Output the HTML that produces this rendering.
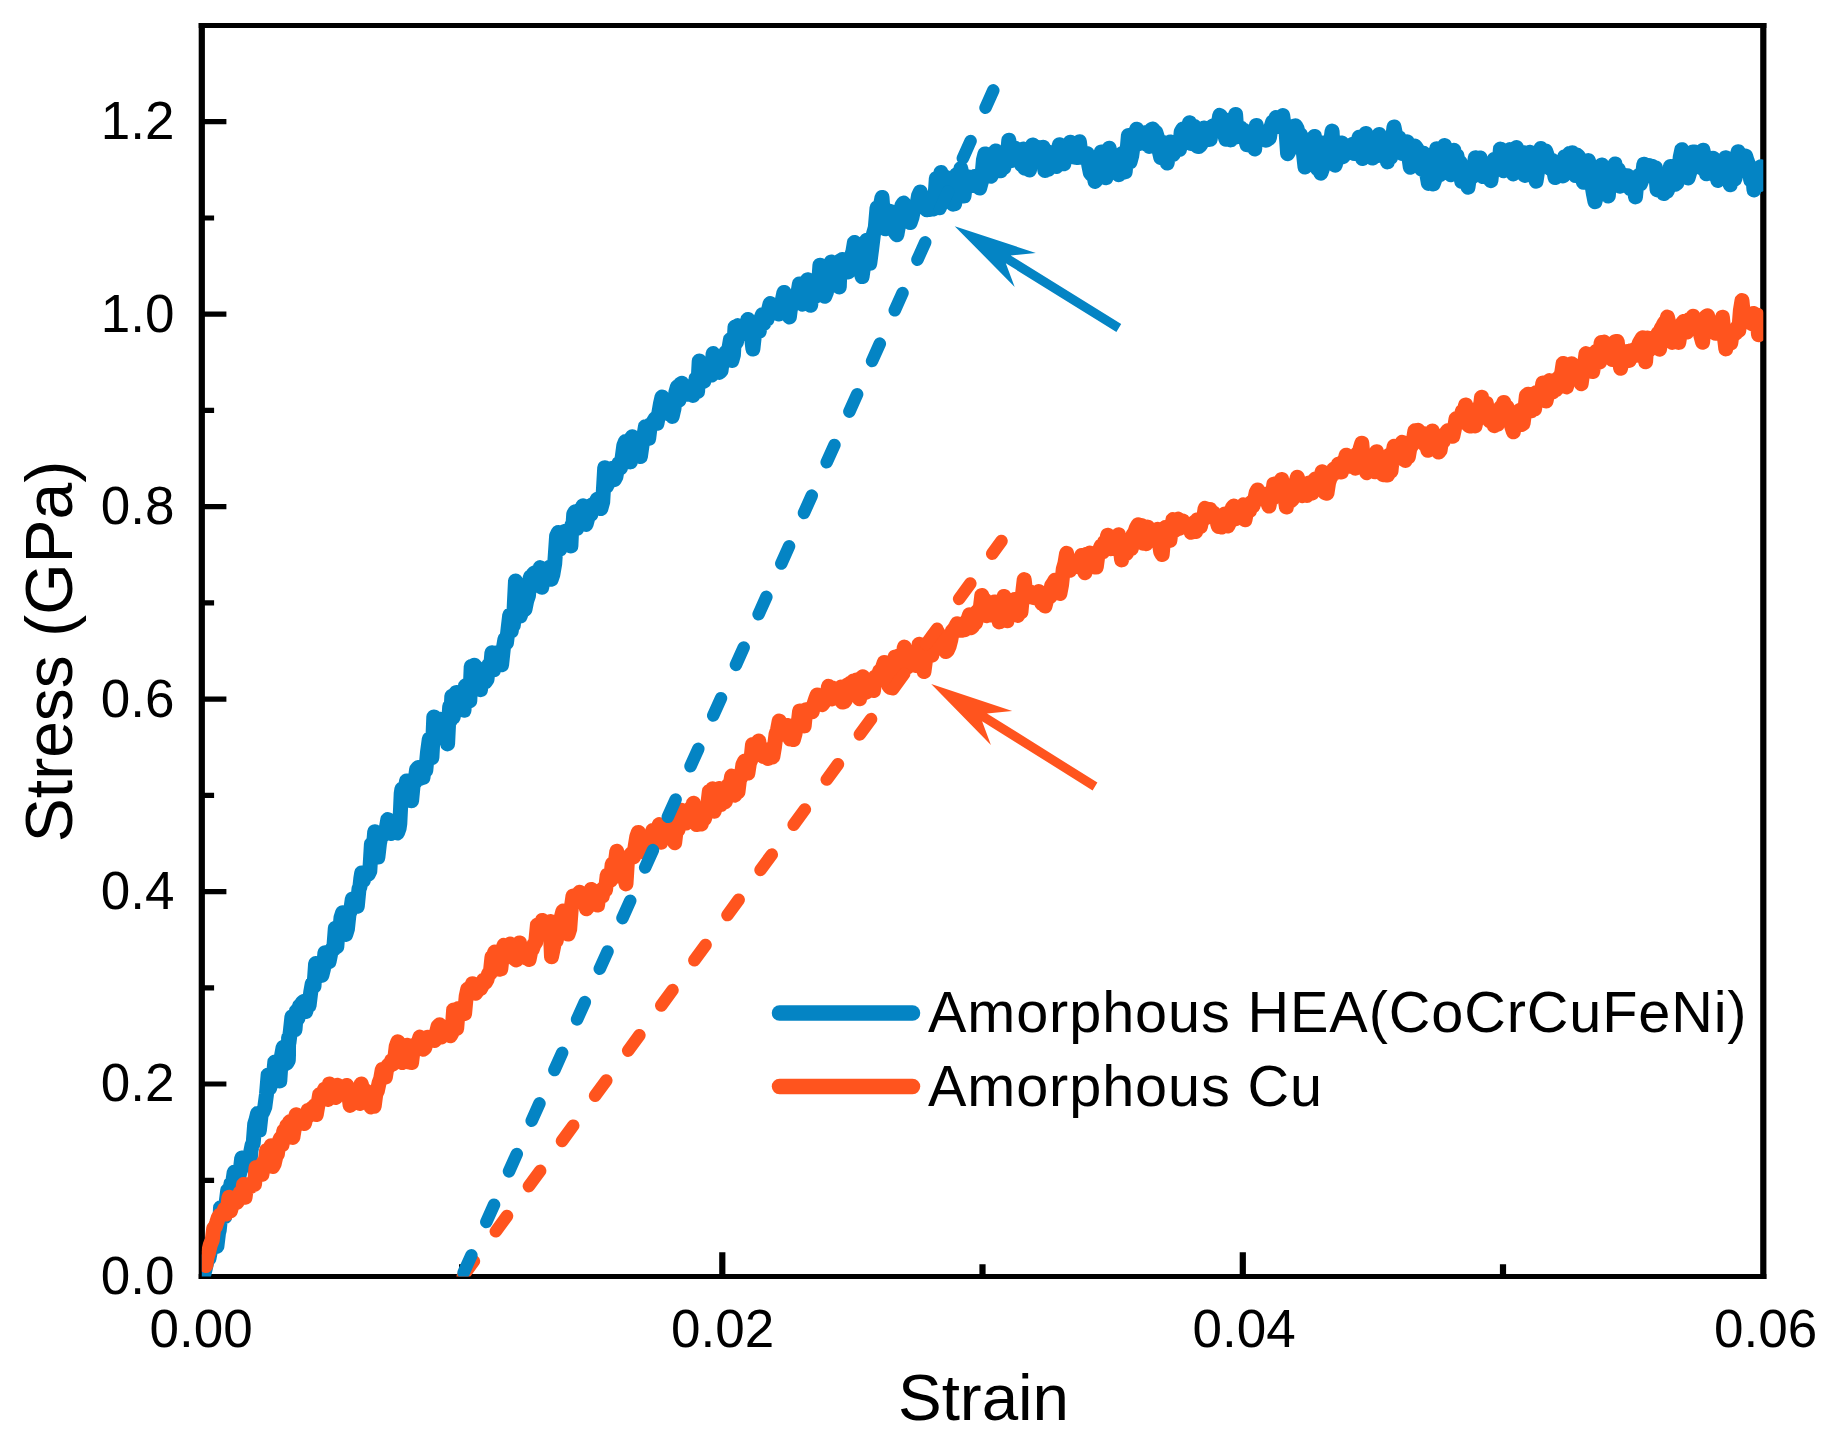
<!DOCTYPE html><html><head><meta charset="utf-8"><title>Stress-Strain</title><style>html,body{margin:0;padding:0;background:#fff}svg{display:block}</style></head><body><svg width="1830" height="1444" viewBox="0 0 1830 1444">
<defs><clipPath id="c"><rect x="201.8" y="25.5" width="1561.5" height="1251.0"/></clipPath></defs>
<rect width="1830" height="1444" fill="#fff"/>
<path d="M201.8,22.9V1279.1M1763.3,22.9V1279.1" stroke="#000" stroke-width="6.2" fill="none"/>
<path d="M198.70000000000002,25.5H1766.3999999999999M198.70000000000002,1276.5H1766.3999999999999" stroke="#000" stroke-width="5.2" fill="none"/>
<path d="M201.8,1180.3H214.10000000000002 M201.8,1084.0H226.4 M201.8,987.8H214.10000000000002 M201.8,891.6H226.4 M201.8,795.3H214.10000000000002 M201.8,699.1H226.4 M201.8,602.9H214.10000000000002 M201.8,506.7H226.4 M201.8,410.4H214.10000000000002 M201.8,314.2H226.4 M201.8,218.0H214.10000000000002 M201.8,121.7H226.4 M201.8,25.5H214.10000000000002" stroke="#000" stroke-width="5.2" fill="none"/>
<path d="M462.1,1276.5V1264.2 M722.3,1276.5V1252.2 M982.5,1276.5V1264.2 M1242.8,1276.5V1252.2 M1503.0,1276.5V1264.2" stroke="#000" stroke-width="6.2" fill="none"/>
<g font-family="'Liberation Sans', sans-serif" font-size="53" fill="#000">
<text x="174.5" y="1293.9" text-anchor="end">0.0</text>
<text x="174.5" y="1101.4" text-anchor="end">0.2</text>
<text x="174.5" y="909.0" text-anchor="end">0.4</text>
<text x="174.5" y="716.5" text-anchor="end">0.6</text>
<text x="174.5" y="524.1" text-anchor="end">0.8</text>
<text x="174.5" y="331.6" text-anchor="end">1.0</text>
<text x="174.5" y="139.1" text-anchor="end">1.2</text>
<text x="201.1" y="1347" text-anchor="middle">0.00</text>
<text x="722.6" y="1347" text-anchor="middle">0.02</text>
<text x="1244.2" y="1347" text-anchor="middle">0.04</text>
<text x="1765.7" y="1347" text-anchor="middle">0.06</text>
</g>
<text font-family="'Liberation Sans', sans-serif" font-size="65.5" x="983.5" y="1419.5" text-anchor="middle">Strain</text>
<text font-family="'Liberation Sans', sans-serif" font-size="66" transform="translate(72.3,651.5) rotate(-90)" text-anchor="middle">Stress (GPa)</text>
<g clip-path="url(#c)" fill="none" stroke-linejoin="round" stroke-linecap="round">
<path d="M201.9,1278.2 L202.6,1277.6 L204.2,1273.0 L205.8,1266.2 L207.4,1259.0 L209.0,1258.4 L210.6,1250.1 L212.2,1240.9 L213.8,1246.1 L215.3,1245.6 L216.9,1246.3 L218.5,1233.0 L219.2,1230.4 L219.8,1224.8 L220.5,1207.7 L221.9,1211.9 L223.4,1206.7 L224.8,1216.4 L226.3,1201.6 L227.7,1190.3 L229.4,1193.9 L231.0,1183.6 L232.7,1182.4 L234.2,1172.2 L235.7,1172.5 L237.2,1178.5 L238.7,1177.1 L240.2,1171.1 L241.7,1158.0 L243.2,1165.4 L244.8,1162.6 L246.5,1165.2 L248.2,1160.1 L249.8,1164.0 L250.9,1151.0 L252.1,1145.1 L253.2,1143.4 L254.7,1123.9 L256.1,1119.5 L257.6,1113.4 L259.4,1130.1 L261.2,1114.0 L263.0,1111.5 L264.8,1107.0 L266.5,1094.2 L268.1,1075.1 L269.8,1087.7 L271.4,1076.6 L273.1,1079.5 L274.8,1062.0 L276.4,1062.2 L278.1,1075.9 L279.8,1080.9 L281.4,1056.7 L283.1,1047.4 L284.9,1054.7 L286.6,1063.3 L288.3,1060.3 L288.5,1054.8 L288.6,1037.3 L288.8,1041.2 L288.9,1043.2 L290.4,1030.9 L291.9,1016.8 L293.5,1016.9 L295.0,1029.7 L296.5,1010.9 L298.0,1018.2 L299.4,1006.2 L300.8,1005.2 L302.5,1002.4 L304.1,1001.2 L305.8,1011.5 L307.5,1003.0 L309.1,1005.6 L310.7,992.4 L312.3,983.3 L314.0,986.2 L315.6,963.6 L317.2,972.6 L318.8,976.1 L320.3,964.7 L321.9,975.3 L323.4,969.3 L324.9,952.8 L326.4,963.3 L328.0,959.5 L328.3,956.1 L328.7,954.0 L329.1,961.6 L330.6,954.1 L332.2,948.8 L333.7,949.3 L335.3,928.3 L336.8,946.8 L338.2,928.8 L339.6,933.0 L341.0,917.5 L342.6,912.7 L344.2,914.7 L345.8,934.4 L347.4,929.1 L349.0,914.1 L350.7,910.2 L352.3,899.1 L354.0,903.4 L355.7,898.3 L357.3,906.3 L359.0,888.7 L359.9,887.1 L360.8,878.4 L361.7,872.9 L363.4,880.4 L365.0,874.4 L366.6,873.0 L368.2,874.4 L369.8,871.2 L371.4,844.1 L373.1,851.2 L374.7,831.7 L376.3,838.5 L377.9,857.1 L379.5,843.2 L381.1,835.3 L382.8,835.4 L384.5,832.2 L386.1,829.4 L387.8,819.6 L389.4,830.8 L391.1,833.5 L392.7,824.3 L394.3,825.5 L395.9,828.7 L397.5,832.9 L399.1,828.3 L399.8,823.6 L400.5,809.5 L401.2,793.4 L401.9,789.0 L402.6,797.1 L403.3,795.7 L405.0,789.6 L406.6,780.9 L408.3,785.5 L409.9,799.0 L411.6,800.8 L413.3,783.1 L414.9,782.4 L416.6,769.4 L418.3,767.5 L419.9,778.5 L421.0,774.7 L422.0,777.7 L423.0,777.5 L424.1,769.4 L425.8,770.4 L427.5,752.2 L429.3,738.9 L431.0,747.0 L431.9,757.7 L432.8,741.0 L433.8,716.9 L435.3,723.5 L436.8,736.4 L438.4,719.0 L439.9,729.3 L441.5,720.2 L443.0,733.9 L444.5,734.3 L446.1,730.2 L447.6,743.9 L448.7,720.9 L449.7,706.4 L450.7,719.9 L451.8,696.2 L453.3,716.9 L454.8,705.3 L456.3,692.5 L457.9,697.4 L459.4,700.5 L460.9,702.4 L462.4,699.7 L464.0,710.3 L465.5,685.8 L467.0,691.2 L468.4,688.2 L469.8,701.0 L471.2,666.6 L472.7,671.2 L474.3,665.2 L475.8,666.9 L477.4,678.7 L479.0,680.4 L480.5,689.7 L482.1,674.3 L483.6,676.2 L485.3,681.9 L487.0,679.3 L488.6,665.1 L490.3,671.1 L491.9,652.7 L493.6,669.9 L495.2,660.0 L496.8,653.0 L498.4,652.8 L500.0,656.6 L501.6,664.8 L503.3,648.7 L504.9,639.2 L506.5,642.6 L508.1,629.0 L509.7,615.1 L511.3,631.0 L512.4,619.8 L513.4,624.8 L514.4,602.8 L515.5,581.0 L517.1,597.1 L518.7,601.6 L520.2,616.1 L521.8,611.5 L523.4,608.0 L525.0,609.3 L526.6,601.2 L528.4,595.9 L530.3,577.0 L532.1,583.0 L533.7,573.6 L535.3,572.4 L537.0,580.9 L538.6,584.7 L540.2,567.6 L541.8,587.3 L543.4,570.1 L545.0,575.8 L546.5,577.8 L548.1,571.0 L549.7,567.1 L551.3,579.2 L552.9,574.3 L554.7,563.7 L556.6,536.1 L558.4,532.4 L560.0,549.1 L561.5,545.6 L563.1,533.5 L564.7,531.3 L566.2,532.9 L567.8,541.6 L569.3,541.4 L570.9,546.0 L571.8,525.4 L572.7,530.0 L573.7,514.2 L575.2,511.7 L576.8,528.3 L578.3,518.6 L579.9,512.6 L581.4,509.2 L583.0,505.8 L584.6,521.3 L586.1,524.4 L587.7,518.4 L589.3,510.5 L590.9,514.3 L592.5,504.7 L594.0,505.0 L595.6,503.6 L597.2,499.3 L599.0,507.7 L600.9,508.5 L602.7,502.0 L604.7,467.7 L606.6,486.1 L608.2,482.6 L609.7,470.0 L611.2,468.4 L612.8,477.3 L614.3,479.7 L615.9,476.7 L617.4,468.2 L618.9,463.3 L620.5,467.7 L622.1,458.2 L623.8,445.6 L625.5,441.4 L627.1,442.1 L628.8,444.4 L630.4,461.9 L632.1,436.8 L633.8,444.4 L635.4,441.8 L637.1,444.2 L638.8,454.3 L640.4,456.6 L642.1,444.7 L643.7,436.8 L645.4,426.7 L647.1,429.2 L648.7,438.3 L650.4,424.4 L652.0,424.5 L653.7,421.0 L655.4,418.4 L657.0,423.3 L658.7,413.9 L660.4,403.9 L662.0,397.0 L663.7,412.9 L665.3,406.6 L667.0,404.5 L668.7,413.7 L670.3,402.0 L672.2,416.4 L674.0,408.5 L675.9,392.1 L677.4,386.7 L679.0,400.0 L680.5,384.2 L682.0,383.3 L683.6,388.6 L685.1,392.0 L686.6,391.3 L688.2,394.2 L689.7,388.3 L691.3,385.7 L692.9,395.4 L694.5,391.4 L696.1,378.5 L697.6,391.5 L699.2,361.1 L700.8,367.2 L702.3,375.6 L703.9,381.2 L705.4,375.5 L707.0,369.0 L708.5,375.5 L710.0,370.7 L711.6,375.1 L713.1,353.6 L714.7,368.2 L716.2,360.5 L717.8,371.7 L719.4,372.4 L721.0,370.9 L722.6,358.7 L724.2,360.4 L725.7,352.5 L727.3,353.4 L728.8,349.2 L730.4,339.7 L731.9,360.5 L733.4,355.1 L735.0,327.0 L736.5,342.1 L738.0,325.6 L739.6,328.8 L741.2,327.3 L742.9,327.0 L744.6,333.6 L746.2,330.7 L747.9,319.5 L749.6,328.2 L751.2,334.4 L752.9,349.0 L754.5,334.4 L756.2,322.2 L757.7,323.1 L759.3,331.2 L760.8,318.9 L762.4,314.7 L763.9,323.2 L765.4,319.7 L767.0,319.2 L768.5,310.0 L770.1,303.6 L771.6,305.7 L773.1,307.3 L774.7,305.7 L776.2,311.4 L777.8,313.8 L779.3,314.0 L780.8,312.9 L782.4,299.7 L783.9,292.4 L785.8,311.0 L787.6,312.9 L789.4,316.9 L791.1,303.1 L792.8,305.1 L794.4,300.4 L796.1,295.1 L797.8,293.7 L799.4,283.9 L801.1,293.0 L802.7,304.2 L804.4,289.7 L806.1,290.2 L807.6,279.7 L809.1,291.2 L810.7,305.3 L812.2,282.0 L813.8,282.2 L815.3,296.4 L816.8,291.3 L818.4,286.7 L819.9,265.2 L821.5,274.7 L823.1,287.4 L824.8,296.3 L826.4,292.2 L828.0,279.7 L829.6,274.2 L831.2,262.0 L832.8,264.3 L834.5,284.5 L836.1,280.4 L837.7,267.9 L839.3,287.1 L840.2,260.7 L841.2,273.5 L842.1,259.6 L843.6,262.6 L845.2,266.5 L846.7,264.0 L848.2,271.9 L849.8,263.2 L851.3,256.9 L852.9,251.5 L854.4,242.5 L855.9,245.8 L857.5,260.8 L859.0,263.9 L860.5,269.2 L862.1,276.6 L863.6,266.0 L865.2,259.6 L866.7,240.3 L868.2,242.3 L869.8,263.2 L871.6,249.5 L873.5,233.9 L875.3,227.7 L877.0,207.8 L878.6,210.0 L880.3,206.2 L882.0,197.4 L883.6,219.6 L885.3,228.8 L887.0,221.4 L888.6,223.1 L890.3,211.3 L891.9,219.8 L893.6,224.7 L895.3,232.5 L896.9,234.8 L898.6,225.3 L900.2,215.8 L901.9,205.5 L903.6,203.1 L905.2,212.5 L906.9,214.6 L908.6,209.7 L910.2,222.5 L911.9,217.6 L913.5,209.9 L915.2,204.9 L916.9,205.2 L918.5,195.8 L920.2,191.9 L921.9,202.0 L923.5,196.9 L925.2,197.5 L926.8,209.7 L928.3,200.3 L929.9,209.4 L931.5,199.8 L933.1,209.0 L934.7,201.8 L936.3,178.4 L937.8,197.2 L939.3,190.7 L940.9,172.5 L942.4,184.5 L944.0,188.9 L945.5,177.3 L947.0,179.1 L948.6,189.9 L950.1,201.2 L951.6,202.8 L953.2,204.1 L954.7,203.7 L956.3,174.8 L957.8,176.9 L959.3,185.8 L960.9,168.5 L962.4,188.1 L964.0,196.0 L965.5,183.6 L967.0,182.6 L968.6,177.0 L970.1,183.1 L971.7,184.8 L973.2,185.5 L974.7,176.5 L976.3,185.8 L977.8,182.3 L979.7,188.1 L981.5,181.4 L983.4,160.1 L984.9,153.9 L986.4,164.9 L988.0,163.4 L989.5,171.0 L991.0,176.2 L992.6,170.7 L994.1,153.1 L995.7,150.9 L997.2,165.5 L998.9,155.5 L1000.5,170.8 L1002.2,164.9 L1003.9,167.7 L1005.5,155.6 L1007.2,157.9 L1008.8,140.3 L1010.5,150.5 L1012.2,160.4 L1013.8,150.3 L1015.4,148.3 L1017.0,155.2 L1018.6,159.1 L1020.2,153.3 L1021.7,164.9 L1023.3,148.9 L1024.9,168.3 L1026.4,152.2 L1028.0,151.5 L1029.5,170.1 L1031.1,155.9 L1032.6,144.9 L1034.1,156.1 L1035.7,151.0 L1037.2,147.3 L1038.8,149.5 L1040.0,149.4 L1041.6,147.9 L1043.2,147.2 L1044.8,170.4 L1046.4,158.8 L1048.1,169.4 L1049.7,152.5 L1051.3,163.9 L1052.9,152.5 L1054.5,155.7 L1056.1,166.6 L1057.7,160.5 L1059.3,144.8 L1060.8,151.1 L1062.4,156.2 L1063.9,163.8 L1065.5,152.1 L1067.0,153.6 L1068.6,156.7 L1070.1,142.2 L1071.7,150.1 L1073.2,145.9 L1074.8,157.2 L1076.3,157.2 L1077.9,157.6 L1079.4,141.8 L1081.0,154.4 L1082.5,157.4 L1084.1,154.4 L1085.7,157.9 L1087.2,153.5 L1088.8,165.3 L1090.3,172.9 L1091.9,174.9 L1093.4,165.8 L1095.0,181.5 L1096.5,179.7 L1098.1,163.3 L1099.6,164.5 L1101.2,151.9 L1102.7,160.4 L1104.3,170.3 L1105.9,177.7 L1107.5,165.1 L1109.1,148.2 L1110.7,155.6 L1112.3,170.7 L1113.9,164.8 L1115.5,171.8 L1117.2,169.8 L1118.8,174.7 L1120.4,167.5 L1122.0,153.5 L1123.6,157.3 L1125.2,171.9 L1126.8,153.9 L1128.4,135.4 L1130.1,161.9 L1131.7,155.9 L1133.3,144.3 L1134.9,139.6 L1136.5,129.2 L1138.1,143.9 L1139.7,143.4 L1141.3,135.9 L1142.9,134.2 L1144.5,132.7 L1146.1,144.1 L1147.6,136.6 L1149.2,146.4 L1150.8,130.2 L1152.5,128.9 L1154.1,130.8 L1155.8,132.2 L1157.5,137.8 L1159.1,150.4 L1160.8,157.7 L1162.4,142.1 L1164.1,157.9 L1165.7,152.5 L1167.2,163.0 L1168.8,151.8 L1170.3,142.0 L1171.9,152.2 L1173.4,154.2 L1175.0,145.6 L1176.5,146.5 L1178.1,147.6 L1179.6,149.4 L1181.2,131.8 L1182.8,129.1 L1184.4,138.1 L1186.1,142.1 L1187.7,136.1 L1189.3,122.8 L1190.9,143.6 L1192.5,136.1 L1194.1,126.5 L1195.7,144.7 L1197.3,146.3 L1199.0,146.5 L1200.6,144.9 L1202.2,142.1 L1203.8,128.0 L1205.4,131.6 L1207.0,135.6 L1208.6,139.4 L1210.2,139.3 L1211.8,126.8 L1213.5,125.8 L1215.1,127.7 L1216.6,129.8 L1218.2,124.9 L1219.7,115.3 L1221.3,117.3 L1222.8,131.0 L1224.4,133.2 L1225.9,139.2 L1227.5,120.5 L1229.0,126.6 L1230.6,139.9 L1232.2,119.8 L1233.9,119.8 L1235.6,114.5 L1237.2,136.7 L1238.9,134.1 L1240.6,127.7 L1242.2,131.2 L1243.9,130.1 L1245.4,138.9 L1247.0,144.7 L1248.5,145.0 L1250.1,140.7 L1251.6,143.2 L1253.2,144.9 L1254.7,148.9 L1256.3,125.4 L1257.8,136.0 L1259.4,137.9 L1261.1,138.8 L1262.7,135.4 L1264.4,135.5 L1266.0,140.2 L1267.7,139.2 L1269.4,138.0 L1271.0,127.3 L1272.7,121.8 L1274.3,124.8 L1276.0,117.5 L1277.7,126.0 L1279.3,126.5 L1281.0,119.1 L1282.7,115.6 L1284.3,127.2 L1286.0,130.7 L1287.6,153.7 L1289.1,150.9 L1290.7,135.6 L1292.3,132.2 L1293.9,126.3 L1295.5,125.7 L1297.1,128.8 L1298.6,135.2 L1300.2,134.2 L1301.8,147.7 L1303.4,152.6 L1305.0,167.1 L1306.6,146.1 L1308.1,157.3 L1309.7,151.4 L1311.3,138.9 L1312.9,145.6 L1314.5,136.5 L1316.1,147.1 L1317.6,168.7 L1319.2,169.6 L1320.9,173.2 L1322.5,168.4 L1324.2,142.8 L1325.9,149.7 L1327.4,150.7 L1329.0,153.8 L1330.5,142.7 L1332.1,131.1 L1333.6,161.9 L1335.2,165.2 L1336.7,159.2 L1338.3,150.7 L1339.8,153.6 L1341.4,142.9 L1343.0,156.8 L1344.6,154.5 L1346.2,150.4 L1347.8,146.1 L1349.4,147.2 L1351.1,148.7 L1352.7,144.2 L1354.3,153.6 L1355.9,150.0 L1357.5,145.7 L1359.1,137.2 L1360.8,152.3 L1362.4,158.5 L1364.1,155.7 L1365.8,133.4 L1367.4,138.5 L1369.1,151.8 L1370.7,148.5 L1372.4,158.1 L1374.1,147.6 L1375.7,155.0 L1377.4,155.8 L1379.1,134.4 L1380.7,141.8 L1382.4,146.3 L1384.0,145.2 L1385.7,143.0 L1387.4,161.9 L1389.0,153.3 L1390.7,157.3 L1392.4,140.0 L1394.0,126.9 L1395.7,135.2 L1397.3,144.8 L1399.0,137.9 L1400.6,147.3 L1402.2,153.4 L1403.8,145.5 L1405.4,146.5 L1407.1,141.7 L1408.7,155.9 L1410.3,167.2 L1411.9,160.9 L1413.5,150.8 L1415.1,146.1 L1416.7,148.5 L1418.4,160.7 L1420.1,152.1 L1421.7,169.1 L1423.4,153.2 L1425.0,159.0 L1426.7,173.4 L1428.4,183.4 L1430.0,169.5 L1431.7,172.7 L1433.3,183.9 L1435.0,179.0 L1436.6,148.7 L1438.2,157.2 L1439.9,174.7 L1441.4,154.8 L1443.0,166.1 L1444.5,145.4 L1446.1,170.0 L1447.6,158.7 L1449.2,169.5 L1450.7,174.8 L1452.3,152.0 L1453.9,150.3 L1455.4,165.4 L1457.0,155.8 L1458.6,166.0 L1460.2,162.6 L1461.7,181.6 L1463.3,173.4 L1464.9,167.9 L1466.5,180.0 L1468.0,187.2 L1469.4,177.1 L1470.9,176.3 L1472.4,176.9 L1473.9,167.7 L1475.3,157.7 L1476.9,170.0 L1478.4,167.2 L1480.0,158.0 L1481.6,174.1 L1483.1,176.6 L1484.7,175.4 L1486.2,167.9 L1487.8,170.1 L1489.3,178.4 L1490.9,180.7 L1492.4,167.0 L1494.0,159.5 L1495.6,165.3 L1497.2,164.0 L1498.8,167.1 L1500.4,149.1 L1501.9,158.4 L1503.6,170.7 L1505.2,168.6 L1506.8,161.5 L1508.4,166.1 L1510.0,149.6 L1511.6,151.5 L1513.2,173.9 L1514.8,151.0 L1516.4,147.6 L1518.1,163.6 L1519.7,157.3 L1521.3,156.6 L1523.0,152.4 L1524.7,175.4 L1526.3,164.8 L1528.0,164.6 L1529.6,152.2 L1531.3,170.5 L1533.0,171.0 L1534.5,172.9 L1536.1,181.2 L1537.7,170.7 L1539.3,154.1 L1540.9,148.4 L1542.5,154.2 L1544.0,165.3 L1545.6,150.9 L1547.2,155.3 L1548.8,159.2 L1550.4,168.7 L1552.0,160.4 L1553.5,169.1 L1555.1,177.6 L1556.7,171.3 L1558.3,167.5 L1559.9,171.3 L1561.5,171.2 L1563.0,175.9 L1564.6,156.7 L1566.2,168.5 L1567.8,162.4 L1569.3,153.6 L1570.9,156.5 L1572.4,152.7 L1574.0,161.2 L1575.5,175.6 L1577.1,155.1 L1578.6,156.7 L1580.2,174.8 L1581.7,173.1 L1583.4,182.3 L1585.0,168.3 L1586.7,174.9 L1588.4,160.6 L1590.0,166.9 L1591.7,183.3 L1593.4,193.8 L1595.0,201.7 L1596.7,189.5 L1598.3,178.1 L1600.0,178.1 L1601.7,165.0 L1603.3,187.9 L1605.0,194.2 L1606.6,178.6 L1608.3,196.1 L1610.0,175.1 L1611.6,183.8 L1613.3,175.1 L1615.0,164.0 L1616.6,178.0 L1618.3,169.5 L1619.9,186.3 L1621.6,174.3 L1623.1,179.0 L1624.6,176.0 L1626.0,180.4 L1627.5,175.7 L1629.0,186.5 L1630.5,188.8 L1632.1,184.3 L1633.8,180.8 L1635.5,196.9 L1637.1,179.6 L1638.8,175.4 L1640.4,183.8 L1642.1,179.7 L1643.8,164.2 L1645.4,171.1 L1647.1,171.1 L1648.8,165.5 L1650.4,173.3 L1652.1,166.3 L1653.7,172.3 L1655.4,167.8 L1657.1,189.9 L1658.7,183.0 L1660.4,187.6 L1662.0,188.8 L1663.7,193.6 L1665.4,186.8 L1667.0,191.5 L1668.7,187.3 L1670.4,166.4 L1672.0,179.0 L1673.7,169.3 L1675.3,184.3 L1677.0,182.9 L1678.6,175.7 L1680.2,157.4 L1681.8,149.7 L1683.3,153.6 L1684.9,160.5 L1686.5,153.2 L1688.1,177.9 L1689.8,172.1 L1691.4,164.0 L1693.1,152.1 L1694.7,152.0 L1696.4,154.7 L1698.1,154.6 L1699.7,158.4 L1701.4,167.9 L1703.0,150.2 L1704.7,161.6 L1706.4,173.7 L1708.0,157.7 L1709.7,162.9 L1711.4,163.7 L1713.0,158.3 L1714.7,174.9 L1716.2,169.7 L1717.8,180.5 L1719.3,178.2 L1720.9,171.7 L1722.4,174.3 L1724.0,169.8 L1725.5,157.7 L1727.1,179.5 L1728.6,178.3 L1730.2,184.7 L1731.7,160.9 L1733.3,176.2 L1734.8,179.1 L1736.4,172.2 L1738.0,151.8 L1739.5,162.7 L1741.1,159.4 L1742.6,161.7 L1744.2,164.0 L1745.7,156.1 L1747.4,161.6 L1749.0,165.7 L1750.7,180.2 L1752.4,173.0 L1754.0,190.0 L1755.7,169.1 L1757.3,171.5 L1759.0,184.9 L1760.7,166.7 L1762.3,179.8 L1764.0,183.4 L1765.7,177.1" stroke="#0484C4" stroke-width="15"/>
<path d="M205.8,1265.5 L206.8,1258.2 L208.6,1252.1 L210.4,1244.6 L212.2,1240.4 L213.7,1228.4 L215.3,1226.7 L216.8,1222.4 L218.4,1217.4 L219.9,1215.2 L221.5,1214.6 L223.0,1213.9 L224.5,1209.3 L226.0,1214.1 L227.5,1209.0 L229.0,1197.2 L230.5,1210.7 L232.0,1205.2 L233.5,1200.1 L235.0,1203.0 L236.8,1202.4 L238.5,1200.0 L240.2,1192.6 L242.0,1194.8 L243.6,1184.5 L245.1,1197.2 L246.7,1184.7 L248.2,1185.5 L249.8,1186.0 L251.4,1186.3 L252.9,1182.5 L254.5,1184.5 L256.0,1167.6 L257.5,1170.8 L259.0,1169.7 L260.5,1165.9 L262.0,1174.3 L263.5,1162.1 L265.1,1162.4 L266.6,1150.4 L268.1,1158.8 L269.6,1149.5 L271.1,1145.7 L272.7,1166.5 L274.2,1163.8 L275.8,1156.8 L277.4,1154.0 L279.0,1141.7 L280.5,1138.3 L282.1,1144.7 L283.7,1131.0 L285.3,1138.4 L286.8,1125.6 L288.2,1130.2 L289.7,1121.8 L291.3,1137.1 L292.9,1137.4 L294.5,1127.4 L296.0,1114.8 L297.6,1116.8 L299.2,1121.5 L300.8,1116.8 L302.6,1120.1 L304.5,1123.5 L306.3,1115.9 L308.0,1110.4 L309.7,1115.1 L311.3,1108.8 L313.0,1112.8 L314.7,1105.7 L316.3,1114.5 L318.0,1104.4 L319.6,1094.7 L321.3,1097.7 L323.0,1092.9 L324.5,1089.3 L326.1,1092.9 L327.7,1099.4 L329.3,1083.9 L330.9,1090.3 L332.5,1091.5 L334.0,1091.6 L335.6,1097.4 L337.2,1085.3 L338.8,1093.5 L340.4,1090.2 L342.0,1090.9 L343.5,1088.6 L345.1,1086.7 L346.8,1085.5 L348.4,1091.6 L350.1,1105.4 L351.8,1103.6 L353.4,1102.0 L355.0,1098.4 L356.6,1089.5 L358.2,1093.0 L359.8,1103.5 L361.3,1084.0 L362.9,1090.7 L364.5,1093.7 L366.1,1090.9 L367.7,1093.8 L369.4,1099.3 L371.0,1107.0 L372.6,1104.3 L374.2,1106.3 L375.8,1094.1 L377.4,1090.8 L379.1,1082.8 L380.7,1078.5 L382.3,1069.4 L383.9,1071.6 L385.4,1077.1 L387.0,1066.9 L388.5,1064.9 L390.1,1065.6 L391.6,1060.5 L393.1,1063.9 L394.7,1059.2 L396.2,1046.5 L397.8,1041.8 L399.3,1053.6 L400.8,1057.5 L402.4,1062.5 L403.9,1058.8 L405.5,1057.5 L407.0,1045.2 L408.5,1061.9 L410.1,1052.1 L411.6,1062.6 L413.3,1048.2 L414.9,1044.7 L416.6,1047.3 L418.3,1042.5 L419.9,1037.1 L421.5,1047.2 L423.1,1049.2 L424.7,1048.0 L426.2,1042.5 L427.8,1037.2 L429.4,1037.8 L431.0,1037.6 L432.8,1037.4 L434.7,1040.4 L436.5,1032.5 L438.1,1026.2 L439.6,1024.7 L441.2,1037.0 L442.7,1033.2 L444.2,1031.9 L445.8,1031.4 L447.3,1033.0 L448.8,1030.0 L450.4,1035.7 L452.0,1032.7 L453.6,1009.9 L455.1,1013.5 L456.7,1028.4 L458.3,1008.5 L459.9,1009.4 L461.5,1014.6 L463.1,1007.9 L464.6,1013.5 L466.2,996.2 L467.8,989.0 L469.4,992.5 L471.0,988.7 L472.5,983.7 L474.1,992.8 L475.7,993.2 L477.3,990.8 L478.9,986.3 L480.5,988.6 L482.0,985.9 L483.6,980.1 L485.3,982.5 L487.0,979.5 L488.6,973.6 L490.3,972.9 L491.9,957.4 L493.3,956.9 L494.7,952.0 L496.1,960.9 L497.7,959.2 L499.2,969.3 L500.8,969.0 L502.3,955.3 L503.9,945.3 L505.4,952.4 L507.0,949.4 L508.6,949.0 L510.1,944.0 L511.7,954.4 L513.2,956.0 L514.8,958.9 L516.4,960.0 L517.9,952.9 L519.5,942.9 L521.0,952.8 L522.6,951.0 L524.3,949.6 L525.9,957.9 L527.5,952.0 L529.1,959.5 L530.7,951.5 L532.4,949.1 L534.0,944.5 L535.7,942.4 L537.4,925.0 L539.0,932.5 L540.6,929.3 L542.2,920.5 L543.8,928.1 L545.4,928.6 L546.9,935.0 L548.5,933.2 L550.1,929.8 L550.6,921.5 L551.0,945.5 L551.5,956.8 L553.1,949.0 L554.7,941.1 L556.3,940.5 L558.0,923.0 L559.6,924.7 L561.2,917.6 L562.9,911.1 L564.7,919.1 L566.4,922.7 L568.1,934.1 L569.7,929.2 L571.3,907.9 L573.0,895.9 L574.6,902.5 L576.2,901.8 L577.8,894.5 L579.7,892.2 L581.5,901.9 L583.4,900.5 L584.9,899.9 L586.5,908.8 L588.1,906.0 L589.7,896.7 L591.3,889.4 L592.8,891.7 L594.4,904.2 L596.0,893.6 L597.6,905.0 L599.2,891.4 L600.8,890.4 L602.3,896.0 L603.9,887.6 L605.5,890.1 L607.2,875.1 L608.8,879.5 L610.5,880.4 L612.2,864.1 L613.7,866.7 L615.2,863.7 L616.8,851.3 L618.3,875.9 L619.9,874.7 L621.4,875.8 L622.9,873.4 L624.5,871.2 L626.0,883.9 L627.6,858.2 L629.1,857.6 L630.6,854.7 L632.2,853.1 L633.7,856.8 L635.2,846.3 L636.8,836.5 L638.3,832.4 L639.9,839.9 L641.5,846.3 L643.1,847.1 L644.7,852.3 L646.3,839.2 L647.9,844.5 L649.6,843.8 L651.2,837.3 L652.8,830.5 L654.4,838.9 L656.0,830.7 L657.6,830.0 L659.3,824.6 L660.8,842.3 L662.3,836.5 L663.9,831.8 L665.4,832.3 L666.9,833.0 L668.5,835.8 L670.0,824.9 L671.6,825.2 L673.1,837.2 L674.7,842.7 L676.3,828.8 L677.9,830.0 L679.4,824.2 L681.0,810.2 L682.6,816.0 L684.2,811.2 L685.7,823.1 L687.3,819.5 L688.8,819.0 L690.3,808.6 L691.9,815.7 L693.4,803.3 L695.0,813.5 L696.5,824.6 L698.0,810.3 L699.6,818.3 L701.3,824.0 L702.9,814.1 L704.5,818.8 L706.1,812.4 L707.7,805.3 L709.3,791.5 L711.0,792.2 L712.6,788.7 L714.2,811.2 L715.8,805.6 L717.4,799.7 L719.0,788.5 L720.6,804.6 L722.2,789.4 L723.8,801.3 L725.3,801.7 L726.9,793.8 L728.5,785.0 L730.1,785.5 L731.7,776.1 L733.3,785.6 L734.8,795.3 L736.4,792.5 L738.0,791.8 L739.6,778.7 L741.2,777.1 L742.9,764.5 L744.6,761.1 L746.2,765.2 L747.9,773.1 L749.4,763.2 L751.0,759.3 L752.5,744.5 L754.1,753.3 L755.6,748.7 L757.1,743.6 L758.7,740.9 L760.2,751.0 L761.7,750.7 L763.3,756.5 L764.9,751.2 L766.5,749.9 L768.1,758.5 L769.7,756.0 L771.2,753.8 L772.8,756.9 L774.4,747.5 L776.0,734.3 L777.6,729.5 L779.2,721.0 L780.7,729.7 L782.3,726.0 L783.9,729.4 L785.5,734.5 L787.1,725.4 L788.7,729.6 L790.2,739.1 L791.8,734.7 L793.4,739.6 L795.0,734.0 L796.5,724.1 L798.1,724.0 L799.6,711.0 L801.1,722.7 L802.7,716.8 L804.2,725.9 L805.8,709.8 L807.3,711.9 L808.8,712.5 L810.5,709.3 L812.2,711.8 L813.8,704.5 L815.5,699.4 L817.1,694.9 L818.8,698.8 L820.5,698.1 L822.1,704.7 L823.8,702.5 L825.5,699.4 L827.0,696.4 L828.5,686.3 L830.1,692.4 L831.6,698.9 L833.2,688.1 L834.7,690.7 L836.2,697.1 L837.8,688.9 L839.3,691.1 L840.9,687.0 L842.5,702.1 L844.1,701.9 L845.6,699.6 L847.2,685.1 L848.8,688.5 L850.4,683.2 L851.9,686.1 L853.5,681.0 L855.0,684.7 L856.5,680.0 L858.1,686.1 L859.6,698.8 L861.2,681.9 L862.7,676.8 L864.2,688.0 L865.8,692.2 L867.3,684.6 L868.9,687.6 L870.4,686.5 L871.9,686.0 L873.5,690.6 L875.0,677.1 L876.5,680.5 L878.1,677.5 L879.6,671.1 L881.2,677.3 L882.7,667.1 L884.2,662.5 L885.8,678.9 L887.3,669.6 L888.9,686.1 L890.4,687.5 L891.9,677.3 L893.5,669.3 L895.0,657.0 L896.6,665.4 L898.1,656.3 L899.6,674.2 L901.2,656.6 L902.7,661.4 L904.3,647.1 L905.8,652.8 L907.5,666.9 L909.1,659.2 L910.8,653.8 L912.4,654.1 L914.1,660.0 L915.8,665.4 L917.4,659.3 L919.1,644.3 L920.7,655.3 L922.4,663.7 L924.0,671.6 L925.6,659.2 L927.2,653.2 L928.7,644.2 L930.3,648.4 L931.9,655.1 L933.5,636.3 L935.0,638.9 L936.6,632.3 L938.1,632.9 L939.6,637.0 L941.2,643.6 L942.7,637.0 L944.3,638.9 L945.8,651.6 L947.3,650.4 L949.0,646.7 L950.7,640.4 L952.3,631.2 L954.0,629.4 L955.7,626.6 L957.2,623.8 L958.7,630.2 L960.3,625.5 L961.8,630.3 L963.3,626.1 L964.9,629.7 L966.4,621.4 L968.0,619.4 L969.5,614.8 L971.0,627.7 L972.6,626.2 L974.1,622.4 L975.7,622.7 L977.2,611.5 L978.7,612.8 L980.3,607.9 L981.8,595.4 L983.4,601.1 L984.9,599.8 L986.5,615.8 L988.1,606.4 L989.7,604.2 L991.3,615.0 L992.8,612.0 L994.4,602.0 L996.0,609.7 L997.6,605.7 L999.2,621.9 L1000.8,608.4 L1002.3,606.1 L1003.9,596.4 L1005.5,602.9 L1007.1,620.8 L1008.6,611.6 L1010.1,601.2 L1011.7,604.9 L1013.2,600.7 L1014.7,599.6 L1016.3,612.5 L1017.8,615.4 L1019.4,612.0 L1021.0,611.8 L1022.6,593.5 L1024.2,579.6 L1025.8,593.6 L1027.4,595.9 L1029.1,594.1 L1030.7,592.1 L1032.3,597.2 L1033.9,597.7 L1035.5,595.6 L1037.1,596.4 L1038.8,591.6 L1040.0,593.2 L1041.7,603.3 L1043.3,594.4 L1045.0,606.1 L1046.6,599.8 L1048.3,592.6 L1050.0,596.7 L1051.6,585.8 L1053.3,583.3 L1055.0,580.4 L1056.6,580.9 L1058.3,584.1 L1059.9,593.5 L1061.6,584.5 L1063.3,568.8 L1064.9,563.5 L1066.6,553.3 L1068.3,566.2 L1069.9,570.3 L1071.6,566.4 L1073.2,563.8 L1074.9,565.2 L1076.6,565.1 L1078.2,566.8 L1079.9,564.6 L1081.6,555.5 L1083.2,566.1 L1084.9,572.7 L1086.5,554.3 L1088.2,557.9 L1089.9,553.0 L1091.5,561.2 L1093.1,557.4 L1094.7,567.0 L1096.3,567.1 L1097.9,555.0 L1099.6,549.7 L1101.2,546.0 L1102.8,551.8 L1104.4,542.2 L1106.0,547.4 L1107.6,535.3 L1109.3,547.2 L1110.8,548.8 L1112.3,538.5 L1113.9,538.1 L1115.4,545.1 L1116.9,549.1 L1118.5,534.8 L1120.0,546.1 L1121.6,559.9 L1123.1,551.6 L1124.8,540.3 L1126.4,553.4 L1128.1,550.0 L1129.8,547.4 L1131.4,548.4 L1133.1,534.7 L1134.7,532.7 L1136.4,527.7 L1138.1,524.8 L1139.7,528.5 L1141.3,525.4 L1143.0,543.2 L1144.6,541.8 L1146.2,543.7 L1147.8,527.1 L1149.4,531.6 L1151.0,533.7 L1152.7,536.8 L1154.3,540.1 L1155.9,532.6 L1157.5,529.3 L1159.1,541.5 L1160.7,551.8 L1162.2,554.5 L1163.7,537.9 L1165.3,527.6 L1166.8,529.9 L1168.3,531.6 L1169.9,540.4 L1171.4,528.4 L1173.0,519.6 L1174.6,530.4 L1176.3,522.3 L1178.0,519.1 L1179.6,528.3 L1181.3,526.9 L1182.9,521.0 L1184.6,525.0 L1186.3,525.9 L1187.9,528.0 L1189.6,525.7 L1191.1,532.3 L1192.7,527.1 L1194.2,522.5 L1195.7,531.6 L1197.3,519.8 L1198.8,526.5 L1200.4,526.7 L1201.9,519.5 L1203.4,519.6 L1205.1,508.3 L1206.8,516.4 L1208.4,510.3 L1210.1,509.4 L1211.7,516.9 L1213.4,512.6 L1215.1,517.1 L1216.7,520.7 L1218.4,526.4 L1220.1,523.8 L1221.6,527.1 L1223.1,515.5 L1224.7,514.0 L1226.2,520.3 L1227.8,526.1 L1229.3,522.8 L1230.8,514.6 L1232.4,507.7 L1233.9,506.0 L1235.5,518.7 L1237.1,507.8 L1238.7,508.4 L1240.2,513.8 L1241.8,513.6 L1243.4,504.8 L1245.0,519.7 L1246.6,511.5 L1248.2,508.6 L1249.7,510.6 L1251.3,502.6 L1252.9,506.1 L1254.5,500.7 L1256.1,492.9 L1257.7,489.9 L1259.3,497.9 L1260.9,498.6 L1262.5,496.9 L1264.1,494.1 L1265.8,494.5 L1267.4,501.7 L1269.0,506.1 L1270.6,498.2 L1272.2,498.8 L1273.8,484.2 L1275.5,483.8 L1277.0,486.2 L1278.6,485.1 L1280.1,495.4 L1281.7,479.4 L1283.2,491.1 L1284.8,496.1 L1286.4,507.1 L1287.9,492.6 L1289.5,493.7 L1291.0,500.7 L1292.6,499.0 L1294.2,484.9 L1295.7,483.6 L1297.3,477.2 L1298.8,482.9 L1300.4,488.7 L1302.0,495.7 L1303.7,492.6 L1305.4,493.8 L1307.0,495.4 L1308.7,482.9 L1310.4,488.9 L1312.0,493.1 L1313.7,486.6 L1315.3,478.9 L1317.0,483.9 L1318.7,484.8 L1320.3,488.4 L1322.0,471.8 L1323.7,475.3 L1325.3,492.7 L1327.0,493.2 L1328.6,482.7 L1330.3,477.5 L1332.0,475.3 L1333.6,469.1 L1335.2,469.8 L1336.7,472.3 L1338.3,464.3 L1339.9,468.7 L1341.4,472.0 L1343.0,461.6 L1344.5,463.1 L1346.1,455.2 L1347.7,463.0 L1349.2,466.3 L1350.8,461.6 L1352.3,463.4 L1353.9,466.8 L1355.4,468.2 L1357.0,453.8 L1358.6,455.2 L1360.2,448.5 L1361.8,443.2 L1363.4,462.1 L1365.1,467.1 L1366.7,472.7 L1368.3,471.3 L1370.0,462.0 L1371.6,464.0 L1373.2,459.6 L1374.9,471.8 L1376.5,451.7 L1378.1,462.7 L1379.7,459.9 L1381.4,468.2 L1383.0,474.7 L1384.6,464.2 L1386.3,474.9 L1387.8,475.0 L1389.4,455.0 L1391.0,471.3 L1392.6,454.5 L1394.2,446.3 L1395.8,458.9 L1397.3,450.3 L1398.9,453.0 L1400.5,451.1 L1402.1,442.3 L1403.7,457.1 L1405.3,460.4 L1406.8,450.4 L1408.4,456.7 L1410.0,447.3 L1411.7,445.5 L1413.3,440.4 L1414.9,430.8 L1416.5,434.0 L1418.1,430.3 L1419.7,438.4 L1421.3,438.9 L1423.0,433.4 L1424.6,444.5 L1426.2,441.3 L1427.8,450.3 L1429.4,438.2 L1430.9,434.4 L1432.4,430.9 L1434.0,437.2 L1435.5,436.9 L1437.0,438.6 L1438.6,452.1 L1440.1,450.3 L1441.7,439.7 L1443.3,441.4 L1444.8,435.9 L1446.4,432.4 L1448.0,430.6 L1449.6,430.8 L1451.2,433.8 L1452.8,436.3 L1454.4,428.9 L1456.0,418.8 L1457.6,421.2 L1459.1,420.3 L1460.7,419.0 L1462.3,411.3 L1463.9,416.1 L1465.5,405.0 L1467.1,423.4 L1468.7,425.5 L1470.3,426.0 L1471.9,413.4 L1473.5,417.2 L1475.1,425.9 L1476.7,417.5 L1478.3,407.8 L1479.9,411.1 L1481.5,397.3 L1483.1,414.4 L1484.7,416.3 L1486.3,403.2 L1487.9,413.6 L1489.5,420.7 L1491.1,419.5 L1492.7,419.3 L1494.2,425.7 L1495.8,418.2 L1497.4,424.3 L1499.0,414.5 L1500.6,407.5 L1502.2,407.7 L1503.8,402.4 L1505.4,411.7 L1507.0,407.0 L1508.6,413.6 L1510.2,415.8 L1511.8,426.7 L1513.4,431.8 L1515.0,416.5 L1516.6,414.2 L1518.2,413.7 L1519.8,410.4 L1521.4,424.6 L1523.1,423.6 L1524.8,410.6 L1526.4,395.6 L1528.1,394.2 L1529.7,396.9 L1531.4,410.7 L1533.0,394.1 L1534.6,409.0 L1536.3,392.6 L1537.9,400.4 L1539.5,391.9 L1541.2,394.5 L1542.8,383.0 L1544.4,399.4 L1546.1,401.0 L1547.7,393.5 L1549.4,380.6 L1551.1,389.9 L1552.8,392.0 L1554.5,380.5 L1556.2,389.6 L1558.0,386.7 L1559.7,376.5 L1561.4,374.8 L1563.1,363.5 L1564.8,380.1 L1566.5,386.9 L1568.2,379.4 L1569.9,367.7 L1571.6,363.7 L1573.2,368.6 L1574.8,365.7 L1576.4,373.3 L1578.0,366.9 L1579.6,377.9 L1581.2,383.8 L1582.8,371.9 L1584.4,365.8 L1586.0,353.6 L1587.6,365.3 L1589.3,370.2 L1591.0,360.5 L1592.7,371.6 L1594.4,360.5 L1596.1,351.4 L1597.8,362.3 L1599.6,362.0 L1601.1,342.6 L1602.7,345.9 L1604.3,342.1 L1605.9,348.7 L1607.5,353.7 L1609.1,350.1 L1610.7,353.1 L1612.3,359.6 L1613.9,352.0 L1615.5,341.7 L1617.2,341.4 L1618.9,355.8 L1620.6,368.3 L1622.3,358.6 L1624.1,360.0 L1625.8,351.9 L1627.5,351.4 L1629.2,360.5 L1630.9,350.8 L1632.6,351.3 L1634.3,349.5 L1636.0,355.4 L1637.7,348.9 L1639.4,342.9 L1641.0,340.1 L1642.5,337.7 L1644.1,349.0 L1645.6,361.8 L1647.2,338.0 L1648.7,350.1 L1650.3,339.0 L1651.9,338.4 L1653.4,340.8 L1655.0,338.5 L1656.5,336.9 L1658.1,333.3 L1659.6,349.2 L1661.2,328.5 L1662.7,326.0 L1664.3,323.0 L1665.8,328.0 L1667.4,317.1 L1669.0,323.8 L1670.6,327.1 L1672.3,342.4 L1673.9,337.7 L1675.5,330.7 L1677.2,329.5 L1678.8,342.4 L1680.4,331.9 L1682.0,323.8 L1683.7,321.5 L1685.3,322.6 L1686.9,332.0 L1688.4,320.3 L1690.0,319.1 L1691.5,322.4 L1693.1,316.3 L1694.6,325.8 L1696.2,320.7 L1697.7,325.3 L1699.3,326.6 L1700.9,336.1 L1702.6,342.2 L1704.3,325.2 L1705.9,316.7 L1707.6,315.7 L1709.2,328.8 L1710.8,331.4 L1712.4,326.9 L1714.0,323.8 L1715.6,333.3 L1717.2,330.6 L1718.9,327.4 L1720.6,330.9 L1722.4,317.3 L1724.1,334.6 L1725.8,348.9 L1727.5,340.7 L1729.2,334.9 L1730.8,343.1 L1732.4,331.5 L1734.0,330.8 L1735.6,333.3 L1737.2,327.2 L1738.8,330.5 L1740.4,310.2 L1742.0,300.6 L1743.6,317.9 L1745.1,321.2 L1746.8,321.3 L1748.5,317.1 L1750.1,319.4 L1751.8,323.7 L1753.5,313.4 L1755.1,321.0 L1756.8,315.0 L1758.5,334.7 L1760.2,328.1 L1762.0,324.8 L1763.7,329.0 L1765.4,329.7 L1767.1,329.7" stroke="#FF541E" stroke-width="15"/>
<path d="M462.7,1276.5 L1001.5,541" stroke="#FF541E" stroke-width="12.5" stroke-dasharray="19 37"/>
<path d="M461.9,1276.5 L995.7,85" stroke="#0484C4" stroke-width="12.5" stroke-dasharray="19 36.5" stroke-dashoffset="-4.2"/>
</g>
<polygon points="954.7,226.2 1035.8,253.0 1010.7,255.5 1121.2,324.1 1116.4,331.9 1005.8,263.3 1014.7,286.9" fill="#0484C4"/>
<polygon points="931.2,683.9 1012.2,711.0 987.0,713.4 1097.4,782.6 1092.6,790.4 982.1,721.2 990.9,744.9" fill="#FF541E"/>
<path d="M779.5,1013.1H912.5" stroke="#0484C4" stroke-width="15.5" stroke-linecap="round"/>
<path d="M779.5,1086.6H912.5" stroke="#FF541E" stroke-width="15.5" stroke-linecap="round"/>
<text font-family="'Liberation Sans', sans-serif" font-size="57.6" letter-spacing="0.9" x="928" y="1032">Amorphous HEA(CoCrCuFeNi)</text>
<text font-family="'Liberation Sans', sans-serif" font-size="57.6" letter-spacing="0.9" x="928" y="1105.5">Amorphous Cu</text>
</svg></body></html>
